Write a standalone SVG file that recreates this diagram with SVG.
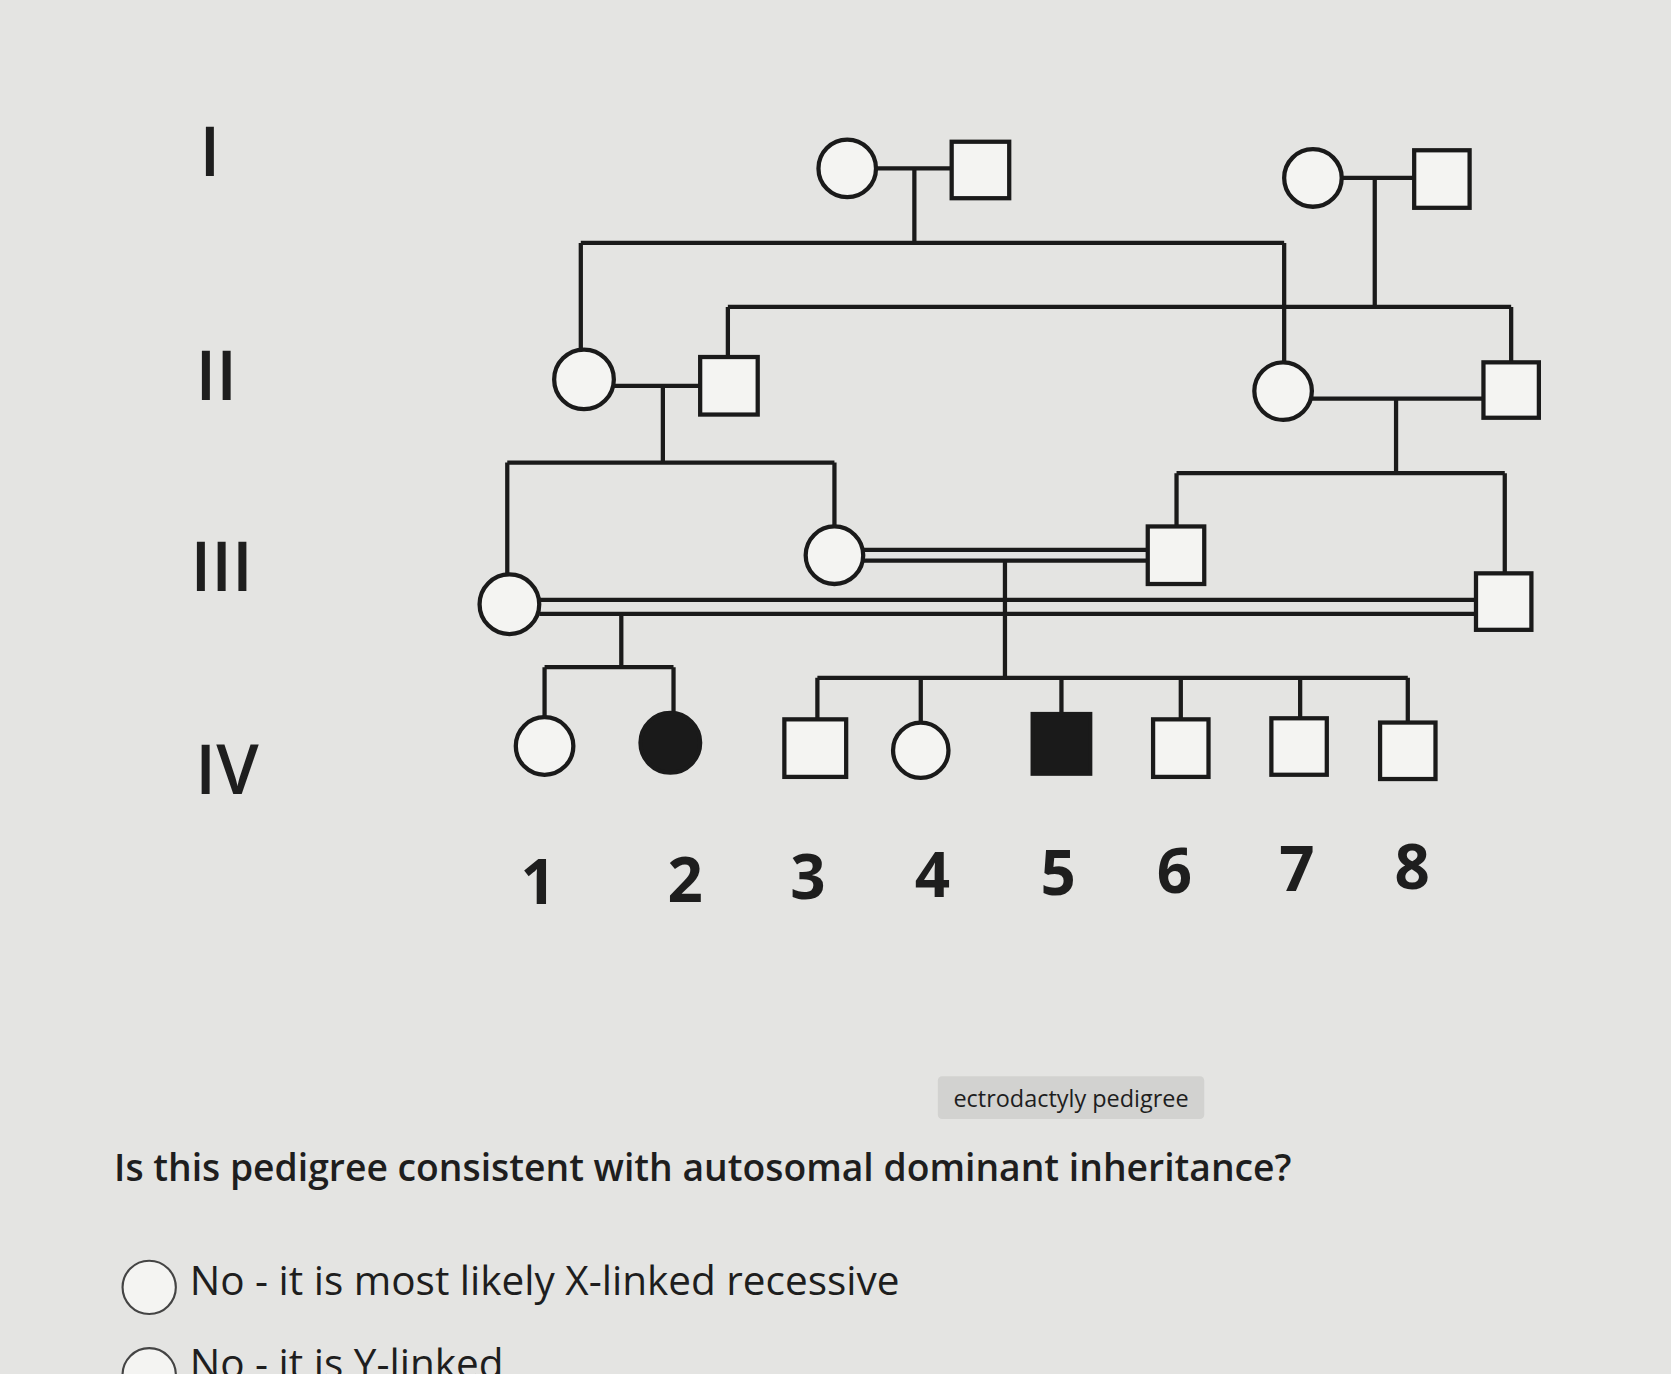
<svg xmlns="http://www.w3.org/2000/svg" width="1671" height="1374" viewBox="0 0 1671 1374">
<style>
.l{stroke:#1a1a1a;stroke-width:4;fill:none}
.n{stroke:#1a1a1a;stroke-width:4;fill:#f4f4f2}
.f{stroke:#1a1a1a;stroke-width:4;fill:#1a1a1a}
.t{font-family:"Open Sans","Liberation Sans",sans-serif;fill:#1e1e1e}
</style>
<rect width="1671" height="1374" fill="#e4e4e2"/>
<g transform="scale(1.0657)">
<g id="connectors">
<path class="l" d="M822 158H893M858 158V228M545 228H1205M545 228V330M1205 228V340"/>
<path class="l" d="M1259 167H1327M1290 167V288M683 288H1418M683 288V335M1418 288V340"/>
<path class="l" d="M576 362H657M622 362V434M476 434H783M476 434V540M783 434V494"/>
<path class="l" d="M1231 374H1392M1310 374V444M1104 444H1412M1104 444V494M1412 444V538"/>
<path class="l" d="M810 516H1077M810 526H1077M943 526V636"/>
<path class="l" d="M506 563H1385M506 576H1385M583 576V626M511 626H632M511 626V673M632 626V670"/>
<path class="l" d="M767 636H1321M767 636V675M864 636V678M996 636V670M1108 636V675M1220 636V674M1321 636V678"/>
</g>
<g id="I-1"><circle class="n" cx="795" cy="158" r="27"/></g>
<g id="I-2"><rect class="n" x="893" y="133" width="54" height="53"/></g>
<g id="I-3"><circle class="n" cx="1232" cy="167" r="27"/></g>
<g id="I-4"><rect class="n" x="1327" y="141" width="52" height="54"/></g>
<g id="II-1"><circle class="n" cx="548" cy="356" r="28"/></g>
<g id="II-2"><rect class="n" x="657" y="335" width="54" height="54"/></g>
<g id="II-3"><circle class="n" cx="1204" cy="367" r="27"/></g>
<g id="II-4"><rect class="n" x="1392" y="340" width="52" height="52"/></g>
<g id="III-1"><circle class="n" cx="783" cy="521" r="27"/></g>
<g id="III-2"><rect class="n" x="1077" y="494" width="53" height="54"/></g>
<g id="III-3"><circle class="n" cx="478" cy="567" r="28"/></g>
<g id="III-4"><rect class="n" x="1385" y="538" width="52" height="53"/></g>
<g id="IV-1"><circle class="n" cx="511" cy="700" r="27"/></g>
<g id="IV-2"><circle class="f" cx="629" cy="697" r="28"/></g>
<g id="IV-3"><rect class="n" x="736" y="675" width="58" height="54"/></g>
<g id="IV-4"><circle class="n" cx="864" cy="704" r="26"/></g>
<g id="IV-5"><rect class="f" x="969" y="670" width="54" height="56"/></g>
<g id="IV-6"><rect class="n" x="1082" y="675" width="52" height="54"/></g>
<g id="IV-7"><rect class="n" x="1193" y="674" width="52" height="53"/></g>
<g id="IV-8"><rect class="n" x="1295" y="678" width="52" height="53"/></g>
<g class="t" font-size="64" font-weight="600" text-anchor="middle">
<text x="197" y="165">I</text><text x="203" y="375">II</text><text x="208" y="555">III</text><text x="213" y="745">IV</text>
</g>
<g class="t" font-size="58" font-weight="bold" text-anchor="middle">
<text x="505" y="848">1</text><text x="643" y="846">2</text><text x="758" y="844">3</text><text x="875" y="842">4</text><text x="993" y="840">5</text><text x="1102" y="838">6</text><text x="1217" y="836">7</text><text x="1325" y="834">8</text>
</g>
<rect x="880" y="1010" width="250" height="40" rx="4" fill="#d2d2d0"/>
<text class="t" x="1005" y="1039" font-size="22" text-anchor="middle">ectrodactyly pedigree</text>
<text class="t" x="107" y="1108" font-size="35" font-weight="600">Is this pedigree consistent with autosomal dominant inheritance?</text>
<circle cx="140" cy="1208" r="25" fill="#f4f4f2" stroke="#444" stroke-width="2"/>
<text class="t" x="178" y="1215" font-size="38">No - it is most likely X-linked recessive</text>
<circle cx="140" cy="1290" r="25" fill="#f4f4f2" stroke="#444" stroke-width="2"/>
<text class="t" x="178" y="1293" font-size="38">No - it is Y-linked</text>
</g>
</svg>
